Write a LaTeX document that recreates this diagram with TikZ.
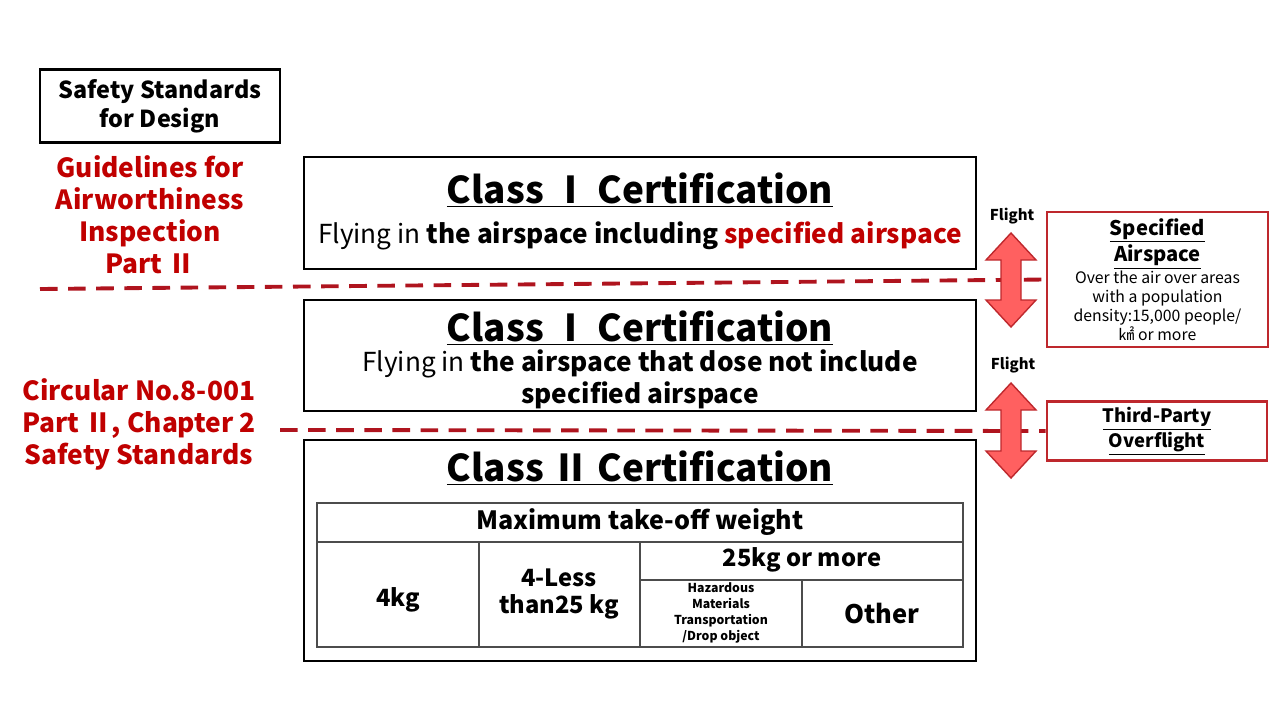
\documentclass[tikz,border=0pt]{standalone}
\usepackage{fontspec}
\setmainfont{Noto Sans CJK JP}
\usepackage{tikz}
\definecolor{Darkred}{RGB}{192,0,0}
\definecolor{Arrowred}{RGB}{255,96,96}
\definecolor{Edgered}{RGB}{190,40,45}
\definecolor{Dashred}{RGB}{175,20,30}
\tikzset{
  classbox/.style={draw, line width=1.5pt},
  redbox/.style={draw=Edgered, line width=1.5pt, align=center},
  redlabel/.style={text=Darkred, align=center, font=\bfseries\fontsize{15}{18.2}\selectfont},
  classtitle/.style={font=\bfseries\fontsize{21}{24}\selectfont},
  celltext/.style={align=center, font=\bfseries\fontsize{13.5}{15}\selectfont},
  flightlabel/.style={font=\bfseries\fontsize{8.5}{10}\selectfont},
  borderline/.style={Dashred, line width=2.2pt, dash pattern=on 10pt off 6pt},
  gridline/.style={draw=black!70, line width=0.6pt}
}
\begin{document}
\begin{tikzpicture}[x=0.02cm,y=-0.02cm]
\useasboundingbox (0,0) rectangle (1280,720);
% left column
\node[draw, line width=1.2pt, minimum width=4.8cm, minimum height=1.46cm, align=center,
  font=\bfseries\fontsize{13.3}{16.5}\selectfont] (design) at (160,106) {Safety Standards\\for Design};
\node[redlabel] (guide) at (150,215) {Guidelines for\\Airworthiness\\Inspection\\Part Ⅱ};
\node[redlabel] (circular) at (139,424) {Circular No.8-001\\Part Ⅱ, Chapter 2\\Safety Standards};
% certification boxes
\draw[classbox] (304,157) rectangle (976,269);
\draw[classbox] (304,300) rectangle (976,411);
\draw[classbox] (304,440) rectangle (976,661);
\node[classtitle] (cls1) at (640,190) {\underline{Class Ⅰ Certification}};
\node[font=\fontsize{14.9}{18}\selectfont] (txt1) at (640,236)
  {Flying in \textbf{the airspace including \textcolor{Darkred}{specified airspace}}};
\node[classtitle] (cls2) at (640,328) {\underline{Class Ⅰ Certification}};
\node[font=\fontsize{14.9}{18.2}\selectfont, align=center] (txt2) at (640,379)
  {Flying in \textbf{the airspace that dose not include}\\\textbf{specified airspace}};
\node[classtitle] (cls3) at (640,468) {\underline{Class Ⅱ Certification}};
% weight table
\draw[gridline] (317,503) rectangle (963,647);
\draw[gridline] (317,542) -- (963,542);
\draw[gridline] (640,580) -- (963,580);
\draw[gridline] (479,542) -- (479,647);
\draw[gridline] (640,542) -- (640,647);
\draw[gridline] (802,580) -- (802,647);
\node[celltext, font=\bfseries\fontsize{14.3}{16}\selectfont] (mtow) at (640,522) {Maximum take-off weight};
\node[celltext] (w4) at (398,600) {4kg};
\node[celltext] (w25) at (559,594) {4-Less\\than25 kg};
\node[celltext] (wmore) at (802,560) {25kg or more};
\node[align=center, font=\bfseries\fontsize{7}{9}\selectfont] (hazard) at (721,613)
  {Hazardous\\Materials\\Transportation\\/Drop object};
\node[celltext, font=\bfseries\fontsize{14.5}{16}\selectfont] (other) at (882,613) {Other};
% right column
\node[redbox, minimum width=4.42cm, minimum height=2.7cm, font=\fontsize{9}{10.8}\selectfont]
  (spec) at (1157.5,279.5)
  {{\bfseries\fontsize{11.5}{13}\selectfont\underline{Specified}}\\
   {\bfseries\fontsize{11.5}{13}\selectfont\underline{Airspace}}\\
   Over the air over areas\\with a population\\density:15,000 people/\\㎢ or more};
\node[redbox, minimum width=4.4cm, minimum height=0.96cm,
  font=\bfseries\fontsize{10.5}{12.5}\selectfont] (third) at (1157,431)
  {\underline{Third-Party}\\\underline{Overflight}};
\coordinate (line1) at (40,289);
\coordinate (line2) at (280,430);
\draw[borderline] (line1) -- (spec.west);
\draw[borderline] (line2) -- (third.west);
\foreach \ya/\yb in {233/327, 383/478}
  \draw[Edgered, fill=Arrowred, line width=0.8pt]
    (1011,\ya) -- (1036,\ya+27) -- (1021,\ya+27) -- (1021,\yb-27) -- (1036,\yb-27)
    -- (1011,\yb) -- (986,\yb-27) -- (1001,\yb-27) -- (1001,\ya+27) -- (986,\ya+27) -- cycle;
\node[flightlabel] (fl1) at (1012,216) {Flight};
\node[flightlabel] (fl2) at (1013,365) {Flight};
\end{tikzpicture}
\end{document}
